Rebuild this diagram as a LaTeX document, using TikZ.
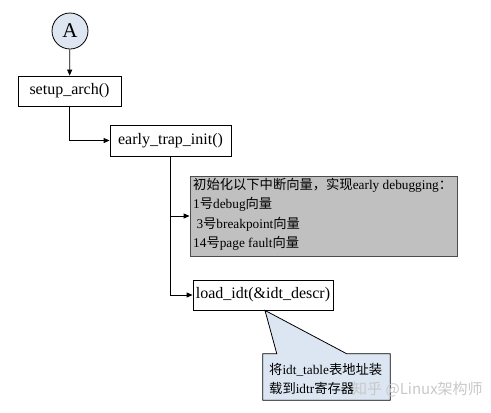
\documentclass[tikz,border=0pt]{standalone}
\usepackage{fontspec}
\setmainfont{Liberation Serif}
\newfontfamily\cjk{Noto Sans CJK SC}
\usetikzlibrary{arrows.meta}
\definecolor{boxgray}{RGB}{192,192,192}
\definecolor{callblue}{RGB}{220,230,242}
\definecolor{circblue}{RGB}{222,230,242}
\definecolor{wmgray}{RGB}{200,200,200}
\newcommand{\zh}[1]{{\cjk #1}}
\tikzset{
  procbox/.style={draw=black, line width=0.8pt, fill=white, inner sep=0pt, font=\fontsize{16}{18}\selectfont},
  conn/.style={line width=0.8pt, -{Triangle[length=6pt,width=5pt]}},
}
\begin{document}
\begin{tikzpicture}[x=1pt,y=-1pt]
\useasboundingbox (0,0) rectangle (491,413);
% start circle
\node[circle, draw=black, line width=0.8pt, fill=circblue, minimum size=36pt, inner sep=0pt, font=\fontsize{21}{23}\selectfont] (A) at (70,31) {A};
% process boxes
\node[procbox, minimum width=103pt, minimum height=30pt] (setup) at (69.5,91) {setup\_arch()};
\node[procbox, minimum width=121pt, minimum height=31pt] (early) at (170.5,140.5) {early\_trap\_init()};
\node[draw=black!70, line width=0.8pt, fill=boxgray, minimum width=267pt, minimum height=80pt, inner sep=0pt] (gray) at (323.5,216) {};
\node[anchor=north west, align=left, inner sep=0pt, font=\fontsize{13.3}{19.5}\selectfont] (graytext) at (193,178)
  {\zh{初始化以下中断向量，实现}early debugging\zh{：}\\
   1\zh{号}debug\zh{向量}\\
   \ 3\zh{号}breakpoint\zh{向量}\\
   14\zh{号}page fault\zh{向量}};
\node[procbox, minimum width=140pt, minimum height=30pt] (load) at (263,295) {load\_idt(\&idt\_descr)};
% callout
\node[minimum width=127pt, minimum height=46pt, inner sep=0pt] (call) at (326.5,377) {};
\draw[line width=0.8pt, fill=callblue]
  (call.north west) -- ([xshift=14pt]call.north west) -- ([xshift=2pt]load.south)
  -- ([xshift=84pt]call.north west) -- (call.north east) -- (call.south east)
  -- (call.south west) -- cycle;
\node[anchor=west, align=left, inner sep=0pt, font=\fontsize{13.3}{18.5}\selectfont] (calltext) at (269,379)
  {\zh{将}idt\_table\zh{表地址装}\\ \zh{载到}idtr\zh{寄存器}};
% connectors
\draw[conn] (A) -- (setup);
\draw[conn] (setup.south) |- (early.west);
\draw[conn] (early.south) |- (load.west);
\draw[conn] (early.south |- gray.west) -- (gray.west);
% watermark
\node[anchor=west, text=wmgray, inner sep=0pt, font=\fontsize{15}{17}\selectfont] (wm) at (352,389) {\zh{知乎 @Linux架构师}};
\end{tikzpicture}
\end{document}
